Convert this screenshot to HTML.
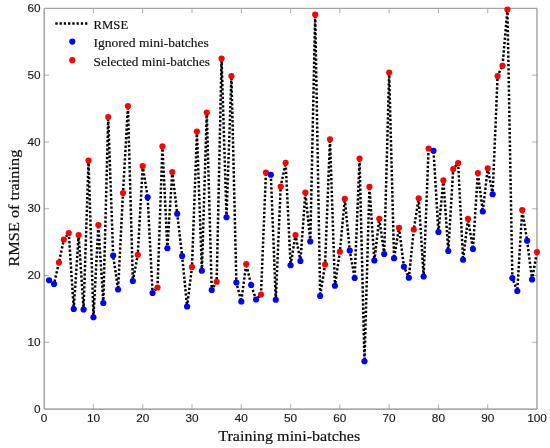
<!DOCTYPE html>
<html><head><meta charset="utf-8">
<style>
html,body{margin:0;padding:0;background:#fff;}
body{width:550px;height:448px;overflow:hidden;}
svg{display:block;}
.tk text{font-family:"Liberation Sans",Arial,sans-serif;font-size:11.8px;fill:#1a1a1a;stroke:#1a1a1a;stroke-width:0.15px;}
.sf{font-family:"Liberation Serif","Times New Roman",serif;fill:#111;}
</style></head>
<body>
<svg width="550" height="448" viewBox="0 0 550 448">
<rect width="550" height="448" fill="#fff"/>
<g stroke="#b4b4b4" stroke-width="1.1" fill="none">
<line x1="93.44" y1="409.1" x2="93.44" y2="404.20000000000005"/><line x1="93.44" y1="8.4" x2="93.44" y2="13.3"/><line x1="142.72" y1="409.1" x2="142.72" y2="404.20000000000005"/><line x1="142.72" y1="8.4" x2="142.72" y2="13.3"/><line x1="192.00" y1="409.1" x2="192.00" y2="404.20000000000005"/><line x1="192.00" y1="8.4" x2="192.00" y2="13.3"/><line x1="241.29" y1="409.1" x2="241.29" y2="404.20000000000005"/><line x1="241.29" y1="8.4" x2="241.29" y2="13.3"/><line x1="290.57" y1="409.1" x2="290.57" y2="404.20000000000005"/><line x1="290.57" y1="8.4" x2="290.57" y2="13.3"/><line x1="339.86" y1="409.1" x2="339.86" y2="404.20000000000005"/><line x1="339.86" y1="8.4" x2="339.86" y2="13.3"/><line x1="389.14" y1="409.1" x2="389.14" y2="404.20000000000005"/><line x1="389.14" y1="8.4" x2="389.14" y2="13.3"/><line x1="438.43" y1="409.1" x2="438.43" y2="404.20000000000005"/><line x1="438.43" y1="8.4" x2="438.43" y2="13.3"/><line x1="487.71" y1="409.1" x2="487.71" y2="404.20000000000005"/><line x1="487.71" y1="8.4" x2="487.71" y2="13.3"/><line x1="44.15" y1="342.32" x2="49.05" y2="342.32"/><line x1="537.0" y1="342.32" x2="532.1" y2="342.32"/><line x1="44.15" y1="275.53" x2="49.05" y2="275.53"/><line x1="537.0" y1="275.53" x2="532.1" y2="275.53"/><line x1="44.15" y1="208.75" x2="49.05" y2="208.75"/><line x1="537.0" y1="208.75" x2="532.1" y2="208.75"/><line x1="44.15" y1="141.97" x2="49.05" y2="141.97"/><line x1="537.0" y1="141.97" x2="532.1" y2="141.97"/><line x1="44.15" y1="75.18" x2="49.05" y2="75.18"/><line x1="537.0" y1="75.18" x2="532.1" y2="75.18"/>
</g>
<g fill="none" stroke-width="1.15">
<line x1="44.15" y1="8.4" x2="537.0" y2="8.4" stroke="#a6a6a6"/>
<line x1="537.0" y1="8.4" x2="537.0" y2="409.1" stroke="#8c8c8c"/>
<line x1="44.15" y1="409.1" x2="537.0" y2="409.1" stroke="#8a8a8a"/>
<line x1="44.15" y1="8.4" x2="44.15" y2="409.1" stroke="#8a8a8a"/>
</g>
<g class="tk"><text x="44.15" y="422.4" text-anchor="middle">0</text><text x="93.44" y="422.4" text-anchor="middle">10</text><text x="142.72" y="422.4" text-anchor="middle">20</text><text x="192.00" y="422.4" text-anchor="middle">30</text><text x="241.29" y="422.4" text-anchor="middle">40</text><text x="290.57" y="422.4" text-anchor="middle">50</text><text x="339.86" y="422.4" text-anchor="middle">60</text><text x="389.14" y="422.4" text-anchor="middle">70</text><text x="438.43" y="422.4" text-anchor="middle">80</text><text x="487.71" y="422.4" text-anchor="middle">90</text><text x="537.00" y="422.4" text-anchor="middle">100</text><text x="40.6" y="412.70" text-anchor="end">0</text><text x="40.6" y="345.92" text-anchor="end">10</text><text x="40.6" y="279.13" text-anchor="end">20</text><text x="40.6" y="212.35" text-anchor="end">30</text><text x="40.6" y="145.57" text-anchor="end">40</text><text x="40.6" y="78.78" text-anchor="end">50</text><text x="40.6" y="12.00" text-anchor="end">60</text></g>
<polyline points="49.08,280.25 54.01,284.00 58.94,262.50 63.86,239.50 68.79,233.00 73.72,309.00 78.65,235.00 83.58,309.50 88.51,160.50 93.44,317.25 98.36,225.00 103.29,303.00 108.22,117.00 113.15,255.50 118.08,289.50 123.01,193.00 127.93,106.00 132.86,281.00 137.79,254.75 142.72,166.00 147.65,197.25 152.58,293.00 157.51,287.50 162.43,146.25 167.36,248.25 172.29,172.00 177.22,213.75 182.15,256.00 187.08,306.50 192.00,267.00 196.93,131.50 201.86,270.75 206.79,112.50 211.72,290.00 216.65,281.75 221.58,58.50 226.50,217.25 231.43,76.00 236.36,282.50 241.29,301.50 246.22,264.00 251.15,285.00 256.08,299.50 261.00,294.50 265.93,172.50 270.86,174.75 275.79,299.75 280.72,186.50 285.65,162.75 290.57,265.25 295.50,235.00 300.43,261.00 305.36,192.50 310.29,241.50 315.22,14.50 320.15,296.00 325.07,264.50 330.00,139.25 334.93,285.75 339.86,251.75 344.79,198.75 349.72,250.50 354.65,278.00 359.57,158.50 364.50,361.25 369.43,186.75 374.36,260.50 379.29,218.75 384.22,254.00 389.14,72.50 394.07,258.25 399.00,227.75 403.93,266.75 408.86,277.75 413.79,229.50 418.72,198.25 423.64,276.50 428.57,148.50 433.50,150.75 438.43,232.00 443.36,180.25 448.29,251.00 453.22,169.00 458.14,163.00 463.07,259.75 468.00,218.75 472.93,249.00 477.86,173.00 482.79,211.50 487.71,168.25 492.64,194.25 497.57,76.00 502.50,65.75 507.43,9.50 512.36,278.00 517.29,291.00 522.21,210.00 527.14,240.75 532.07,279.50 537.00,252.00" fill="none" stroke="#000" stroke-width="2.5" stroke-dasharray="2.3 1.95" stroke-linejoin="round"/>
<g><circle cx="49.08" cy="280.25" r="3.1" fill="#0000ff"/><circle cx="54.01" cy="284.00" r="3.1" fill="#0000ff"/><circle cx="58.94" cy="262.50" r="3.1" fill="#ff0000"/><circle cx="63.86" cy="239.50" r="3.1" fill="#ff0000"/><circle cx="68.79" cy="233.00" r="3.1" fill="#ff0000"/><circle cx="73.72" cy="309.00" r="3.1" fill="#0000ff"/><circle cx="78.65" cy="235.00" r="3.1" fill="#ff0000"/><circle cx="83.58" cy="309.50" r="3.1" fill="#0000ff"/><circle cx="88.51" cy="160.50" r="3.1" fill="#ff0000"/><circle cx="93.44" cy="317.25" r="3.1" fill="#0000ff"/><circle cx="98.36" cy="225.00" r="3.1" fill="#ff0000"/><circle cx="103.29" cy="303.00" r="3.1" fill="#0000ff"/><circle cx="108.22" cy="117.00" r="3.1" fill="#ff0000"/><circle cx="113.15" cy="255.50" r="3.1" fill="#0000ff"/><circle cx="118.08" cy="289.50" r="3.1" fill="#0000ff"/><circle cx="123.01" cy="193.00" r="3.1" fill="#ff0000"/><circle cx="127.93" cy="106.00" r="3.1" fill="#ff0000"/><circle cx="132.86" cy="281.00" r="3.1" fill="#0000ff"/><circle cx="137.79" cy="254.75" r="3.1" fill="#ff0000"/><circle cx="142.72" cy="166.00" r="3.1" fill="#ff0000"/><circle cx="147.65" cy="197.25" r="3.1" fill="#0000ff"/><circle cx="152.58" cy="293.00" r="3.1" fill="#0000ff"/><circle cx="157.51" cy="287.50" r="3.1" fill="#ff0000"/><circle cx="162.43" cy="146.25" r="3.1" fill="#ff0000"/><circle cx="167.36" cy="248.25" r="3.1" fill="#0000ff"/><circle cx="172.29" cy="172.00" r="3.1" fill="#ff0000"/><circle cx="177.22" cy="213.75" r="3.1" fill="#0000ff"/><circle cx="182.15" cy="256.00" r="3.1" fill="#0000ff"/><circle cx="187.08" cy="306.50" r="3.1" fill="#0000ff"/><circle cx="192.00" cy="267.00" r="3.1" fill="#ff0000"/><circle cx="196.93" cy="131.50" r="3.1" fill="#ff0000"/><circle cx="201.86" cy="270.75" r="3.1" fill="#0000ff"/><circle cx="206.79" cy="112.50" r="3.1" fill="#ff0000"/><circle cx="211.72" cy="290.00" r="3.1" fill="#0000ff"/><circle cx="216.65" cy="281.75" r="3.1" fill="#ff0000"/><circle cx="221.58" cy="58.50" r="3.1" fill="#ff0000"/><circle cx="226.50" cy="217.25" r="3.1" fill="#0000ff"/><circle cx="231.43" cy="76.00" r="3.1" fill="#ff0000"/><circle cx="236.36" cy="282.50" r="3.1" fill="#0000ff"/><circle cx="241.29" cy="301.50" r="3.1" fill="#0000ff"/><circle cx="246.22" cy="264.00" r="3.1" fill="#ff0000"/><circle cx="251.15" cy="285.00" r="3.1" fill="#0000ff"/><circle cx="256.08" cy="299.50" r="3.1" fill="#0000ff"/><circle cx="261.00" cy="294.50" r="3.1" fill="#ff0000"/><circle cx="265.93" cy="172.50" r="3.1" fill="#ff0000"/><circle cx="270.86" cy="174.75" r="3.1" fill="#0000ff"/><circle cx="275.79" cy="299.75" r="3.1" fill="#0000ff"/><circle cx="280.72" cy="186.50" r="3.1" fill="#ff0000"/><circle cx="285.65" cy="162.75" r="3.1" fill="#ff0000"/><circle cx="290.57" cy="265.25" r="3.1" fill="#0000ff"/><circle cx="295.50" cy="235.00" r="3.1" fill="#ff0000"/><circle cx="300.43" cy="261.00" r="3.1" fill="#0000ff"/><circle cx="305.36" cy="192.50" r="3.1" fill="#ff0000"/><circle cx="310.29" cy="241.50" r="3.1" fill="#0000ff"/><circle cx="315.22" cy="14.50" r="3.1" fill="#ff0000"/><circle cx="320.15" cy="296.00" r="3.1" fill="#0000ff"/><circle cx="325.07" cy="264.50" r="3.1" fill="#ff0000"/><circle cx="330.00" cy="139.25" r="3.1" fill="#ff0000"/><circle cx="334.93" cy="285.75" r="3.1" fill="#0000ff"/><circle cx="339.86" cy="251.75" r="3.1" fill="#ff0000"/><circle cx="344.79" cy="198.75" r="3.1" fill="#ff0000"/><circle cx="349.72" cy="250.50" r="3.1" fill="#0000ff"/><circle cx="354.65" cy="278.00" r="3.1" fill="#0000ff"/><circle cx="359.57" cy="158.50" r="3.1" fill="#ff0000"/><circle cx="364.50" cy="361.25" r="3.1" fill="#0000ff"/><circle cx="369.43" cy="186.75" r="3.1" fill="#ff0000"/><circle cx="374.36" cy="260.50" r="3.1" fill="#0000ff"/><circle cx="379.29" cy="218.75" r="3.1" fill="#ff0000"/><circle cx="384.22" cy="254.00" r="3.1" fill="#0000ff"/><circle cx="389.14" cy="72.50" r="3.1" fill="#ff0000"/><circle cx="394.07" cy="258.25" r="3.1" fill="#0000ff"/><circle cx="399.00" cy="227.75" r="3.1" fill="#ff0000"/><circle cx="403.93" cy="266.75" r="3.1" fill="#0000ff"/><circle cx="408.86" cy="277.75" r="3.1" fill="#0000ff"/><circle cx="413.79" cy="229.50" r="3.1" fill="#ff0000"/><circle cx="418.72" cy="198.25" r="3.1" fill="#ff0000"/><circle cx="423.64" cy="276.50" r="3.1" fill="#0000ff"/><circle cx="428.57" cy="148.50" r="3.1" fill="#ff0000"/><circle cx="433.50" cy="150.75" r="3.1" fill="#0000ff"/><circle cx="438.43" cy="232.00" r="3.1" fill="#0000ff"/><circle cx="443.36" cy="180.25" r="3.1" fill="#ff0000"/><circle cx="448.29" cy="251.00" r="3.1" fill="#0000ff"/><circle cx="453.22" cy="169.00" r="3.1" fill="#ff0000"/><circle cx="458.14" cy="163.00" r="3.1" fill="#ff0000"/><circle cx="463.07" cy="259.75" r="3.1" fill="#0000ff"/><circle cx="468.00" cy="218.75" r="3.1" fill="#ff0000"/><circle cx="472.93" cy="249.00" r="3.1" fill="#0000ff"/><circle cx="477.86" cy="173.00" r="3.1" fill="#ff0000"/><circle cx="482.79" cy="211.50" r="3.1" fill="#0000ff"/><circle cx="487.71" cy="168.25" r="3.1" fill="#ff0000"/><circle cx="492.64" cy="194.25" r="3.1" fill="#0000ff"/><circle cx="497.57" cy="76.00" r="3.1" fill="#ff0000"/><circle cx="502.50" cy="65.75" r="3.1" fill="#ff0000"/><circle cx="507.43" cy="9.50" r="3.1" fill="#ff0000"/><circle cx="512.36" cy="278.00" r="3.1" fill="#0000ff"/><circle cx="517.29" cy="291.00" r="3.1" fill="#0000ff"/><circle cx="522.21" cy="210.00" r="3.1" fill="#ff0000"/><circle cx="527.14" cy="240.75" r="3.1" fill="#0000ff"/><circle cx="532.07" cy="279.50" r="3.1" fill="#0000ff"/><circle cx="537.00" cy="252.00" r="3.1" fill="#ff0000"/></g>
<line x1="55.3" y1="23.4" x2="89.0" y2="23.4" stroke="#000" stroke-width="2.5" stroke-dasharray="2.3 1.95"/>
<circle cx="72.3" cy="41.6" r="3.1" fill="#0000ff"/>
<circle cx="72.3" cy="60.2" r="3.1" fill="#ff0000"/>
<g class="sf" font-size="12.6" stroke="#111" stroke-width="0.15">
<text x="93.6" y="28.9" textLength="34.6" lengthAdjust="spacingAndGlyphs">RMSE</text>
<text x="93.6" y="47.2" textLength="115.2" lengthAdjust="spacingAndGlyphs">Ignored mini-batches</text>
<text x="93.6" y="65.5" textLength="116.4" lengthAdjust="spacingAndGlyphs">Selected mini-batches</text>
</g>
<text class="sf" x="289.25" y="440.5" font-size="15.5" stroke="#111" stroke-width="0.2" text-anchor="middle" textLength="142" lengthAdjust="spacingAndGlyphs">Training mini-batches</text>
<text class="sf" transform="translate(18.7 208.1) rotate(-90)" x="0" y="0" font-size="15.5" stroke="#111" stroke-width="0.2" text-anchor="middle" textLength="117" lengthAdjust="spacingAndGlyphs">RMSE of training</text>
</svg>
</body></html>
